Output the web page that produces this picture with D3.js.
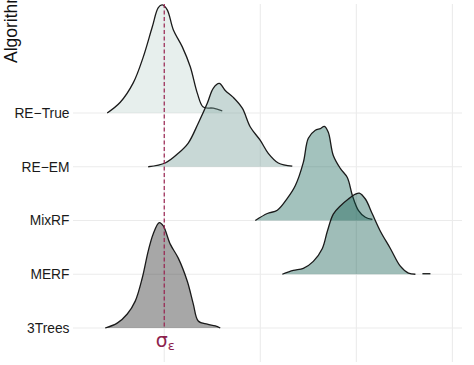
<!DOCTYPE html>
<html>
<head>
<meta charset="utf-8">
<script src="https://cdn.jsdelivr.net/npm/d3@7"></script>
<style>
  html, body { margin: 0; padding: 0; background: #fff; }
  svg { display: block; }
</style>
</head>
<body>
<svg id="chart" width="474" height="365"></svg>
<script>
// ---- data ----
const categories = ["3Trees", "MERF", "MixRF", "RE−EM", "RE−True"];
const xTicks = [1, 2, 3, 4];
const sigmaValue = 1;
// density ridges: [x, density] (x in units of sigma_epsilon)
const densRETrue = [[0.406,0],[0.542,0.20],[0.677,0.56],[0.781,1.04],[0.875,1.60],[0.938,1.96],[0.979,2.01],[1.031,1.92],[1.094,1.55],[1.188,1.23],[1.271,0.86],[1.344,0.37],[1.406,0.11],[1.510,0.09],[1.604,0.04]];
const densREEM = [[0.833,0],[1.010,0.07],[1.146,0.25],[1.25,0.44],[1.354,0.81],[1.448,1.18],[1.510,1.46],[1.573,1.55],[1.635,1.42],[1.719,1.29],[1.8125,1.09],[1.896,0.74],[2.0,0.49],[2.083,0.25],[2.1875,0.07],[2.333,0.01]];
const densMixRF = [[1.948,0],[2.073,0.13],[2.177,0.19],[2.281,0.41],[2.365,0.65],[2.448,1.08],[2.5,1.53],[2.573,1.68],[2.625,1.71],[2.667,1.75],[2.708,1.64],[2.760,1.21],[2.833,0.97],[2.906,0.80],[2.958,0.47],[3.021,0.19],[3.094,0.06],[3.167,0.02]];
const densMERF = [[2.229,0],[2.344,0.07],[2.448,0.11],[2.552,0.24],[2.646,0.48],[2.698,0.80],[2.760,1.12],[2.833,1.27],[2.917,1.40],[2.990,1.49],[3.031,1.51],[3.094,1.40],[3.167,1.12],[3.25,0.80],[3.354,0.48],[3.458,0.15],[3.542,0.02],[3.615,0]];
const densMERFTail = [[3.688,0.01],[3.771,0.01]];
const dens3Trees = [[0.385,0],[0.510,0.09],[0.615,0.26],[0.698,0.50],[0.771,0.93],[0.833,1.43],[0.885,1.75],[0.948,1.96],[0.990,1.90],[1.0625,1.56],[1.146,1.30],[1.24,0.87],[1.302,0.45],[1.354,0.13],[1.448,0.07],[1.531,0.04],[1.583,0]];

const ridges = [
  {name: "RE−True", segs: [densRETrue], fill: "#c4d8d3"},
  {name: "RE−EM", segs: [densREEM], fill: "#769e98"},
  {name: "MixRF", segs: [densMixRF], fill: "#19665a"},
  {name: "MERF", segs: [densMERF, densMERFTail], fill: "#0f5a4d"},
  {name: "3Trees", segs: [dens3Trees], fill: "#222222"}
];

// ---- layout ----
const svg = d3.select("#chart");
const panel = {left: 73, right: 462, top: 0, bottom: 365};
const x = d3.scaleLinear().domain([0.05, 4.1]).range([panel.left, panel.right]);
const y = d3.scalePoint().domain(categories).range([328, 113]);
const step = (328 - 113) / (categories.length - 1);
const h = d3.scaleLinear().domain([0, 1]).range([0, step]);

// grid
const grid = svg.append("g");
grid.selectAll("line.v").data(xTicks).join("line")
  .attr("x1", d => x(d)).attr("x2", d => x(d))
  .attr("y1", 4).attr("y2", 362)
  .attr("stroke", "#ebebeb").attr("stroke-width", 1.1);
grid.selectAll("line.h").data(categories).join("line")
  .attr("x1", panel.left).attr("x2", panel.right)
  .attr("y1", d => y(d)).attr("y2", d => y(d))
  .attr("stroke", "#ebebeb").attr("stroke-width", 1.1);

// ridges
const ridgeG = svg.append("g");
const curve = d3.curveCatmullRom.alpha(0.5);
ridges.forEach(r => {
  const base = y(r.name);
  const yy = d => Math.min(base, base - h(d[1]));
  const area = d3.area().x(d => x(d[0])).y0(base).y1(yy).curve(curve);
  const line = d3.line().x(d => x(d[0])).y(yy).curve(curve);
  r.segs.forEach(seg => {
    ridgeG.append("path").attr("d", area(seg))
      .attr("fill", r.fill).attr("fill-opacity", 0.4).attr("stroke", "none");
    ridgeG.append("path").attr("d", line(seg))
      .attr("fill", "none").attr("stroke", "#1a1a1a").attr("stroke-width", 1.3);
  });
});

// sigma line
svg.append("line")
  .attr("x1", x(sigmaValue)).attr("x2", x(sigmaValue))
  .attr("y1", 4).attr("y2", 329)
  .attr("stroke", "#9a2451").attr("stroke-width", 1.2)
  .attr("stroke-dasharray", "4,2.5");

const sig = svg.append("text")
  .attr("x", x(sigmaValue) + 1).attr("y", 347)
  .attr("text-anchor", "middle")
  .attr("fill", "#8e1f4d")
  .style("font-family", "DejaVu Sans, sans-serif");
sig.append("tspan").attr("font-size", 19).text("σ");
sig.append("tspan").attr("font-size", 13).attr("dy", 3).text("ε");

// y labels
svg.append("g").selectAll("text").data(categories).join("text")
  .attr("x", 69.5).attr("y", d => y(d)).attr("dy", "0.36em")
  .attr("text-anchor", "end")
  .attr("fill", "#1a1a1a")
  .style("font-family", "Liberation Sans, Arial, sans-serif")
  .style("font-size", "13.8px")
  .text(d => d);

// y title
svg.append("text")
  .attr("transform", "translate(16.5,63) rotate(-90)")
  .attr("text-anchor", "start")
  .attr("fill", "#111")
  .style("font-family", "Liberation Sans, Arial, sans-serif")
  .style("font-size", "17.5px")
  .text("Algorithm");
</script>
</body>
</html>
